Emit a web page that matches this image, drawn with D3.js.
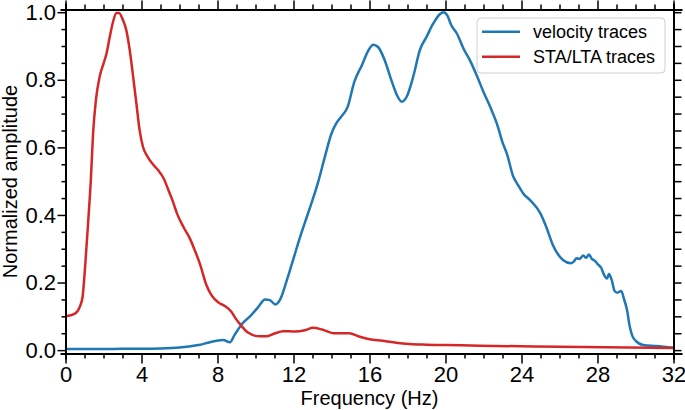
<!DOCTYPE html>
<html>
<head>
<meta charset="utf-8">
<script src="https://d3js.org/d3.v7.min.js"></script>
<style>
    body { margin: 0; background: #fff; }
    svg { display: block; font-family: "Liberation Sans", Arial, Helvetica, sans-serif; }
    .axis path, .axis line { stroke: #000; }
    .axis path { stroke-width: 2px; }
    .axis line { stroke-width: 1.5px; }
    .axis text { font-size: 22px; fill: #000; }
</style>
</head>
<body>
<script>

// velocity traces: frequency (Hz) and normalized amplitude
var velFreq = [0, 1, 2, 3, 4, 5, 6, 6.5, 7, 7.5, 7.95, 8.3, 8.65, 8.9, 9.3, 9.75, 10.15, 10.5, 10.75, 11.05,
    11.3, 11.65, 12, 12.35, 12.7, 13, 13.3, 13.65, 14, 14.25, 14.5, 14.85, 15.2, 15.6, 15.95, 16.2, 16.45,
    16.8, 17.15, 17.45, 17.7, 17.95, 18.3, 18.65, 19, 19.35, 19.7, 19.9, 20.1, 20.3, 20.6, 20.95, 21.3, 21.65,
    22, 22.35, 22.7, 23, 23.25, 23.55, 23.8, 24.1, 24.45, 25, 25.3, 25.65, 26.2, 26.6, 26.75, 26.9, 27.05,
    27.25, 27.4, 27.55, 27.7, 27.85, 28, 28.2, 28.35, 28.5, 28.6, 28.75, 28.9, 29.05, 29.25, 29.4, 29.55,
    29.7, 29.85, 30, 30.4, 31.1, 32];
var velAmp = [0.003, 0.003, 0.003, 0.004, 0.004, 0.005, 0.008, 0.011, 0.015, 0.022, 0.028, 0.030, 0.023, 0.045,
    0.078, 0.102, 0.128, 0.150, 0.148, 0.135, 0.150, 0.207, 0.271, 0.335, 0.394, 0.444, 0.498, 0.572, 0.641,
    0.671, 0.690, 0.720, 0.794, 0.843, 0.888, 0.904, 0.897, 0.858, 0.799, 0.754, 0.735, 0.749, 0.809, 0.888,
    0.927, 0.966, 0.994, 1.0, 0.99, 0.962, 0.937, 0.892, 0.856, 0.812, 0.764, 0.720, 0.671, 0.615, 0.578,
    0.516, 0.490, 0.463, 0.444, 0.404, 0.365, 0.311, 0.266, 0.257, 0.262, 0.272, 0.270, 0.280, 0.273, 0.283,
    0.270, 0.265, 0.255, 0.243, 0.222, 0.212, 0.225, 0.207, 0.175, 0.170, 0.175, 0.150, 0.120, 0.069, 0.040,
    0.028, 0.015, 0.012, 0.007];

// STA/LTA traces
var staFreq = [0, 0.5, 0.75, 0.9, 1.02, 1.2, 1.33, 1.45, 1.6, 1.8, 2, 2.16, 2.33, 2.5, 2.68, 2.82, 3.03, 3.2,
    3.38, 3.56, 3.73, 3.9, 4.08, 4.3, 4.6, 4.87, 5.17, 5.4, 5.65, 5.87, 6.2, 6.55, 6.8, 7.07, 7.42, 7.68,
    8.05, 8.4, 8.74, 8.95, 9.2, 9.6, 10.2, 10.6, 11, 11.45, 12.1, 12.6, 13.03, 13.5, 14.1, 14.95, 15.4, 16,
    16.7, 17.4, 18.1, 19, 20, 21.8, 26, 32];
var staAmp = [0.100, 0.108, 0.128, 0.158, 0.237, 0.385, 0.500, 0.640, 0.740, 0.810, 0.848, 0.878, 0.927, 0.971,
    0.998, 0.998, 0.976, 0.947, 0.888, 0.809, 0.730, 0.651, 0.601, 0.574, 0.550, 0.533, 0.508, 0.476, 0.440,
    0.404, 0.365, 0.330, 0.296, 0.256, 0.192, 0.163, 0.141, 0.130, 0.113, 0.094, 0.076, 0.052, 0.041, 0.041,
    0.049, 0.056, 0.055, 0.059, 0.066, 0.061, 0.050, 0.050, 0.041, 0.032, 0.028, 0.022, 0.018, 0.016, 0.015,
    0.013, 0.010, 0.006];

var xTicks = [0, 4, 8, 12, 16, 20, 24, 28, 32];
var yTicks = [0, 0.2, 0.4, 0.6, 0.8, 1.0];
var seriesNames = ["velocity traces", "STA/LTA traces"];
var seriesColors = ["#1f77b4", "#d62728"];

var margin = {top: 9.5, right: 11.5, bottom: 56.5, left: 65.5},
    width = 685 - margin.left - margin.right,
    height = 410 - margin.top - margin.bottom;

var svg = d3.select("body")
    .append("svg")
    .attr("width", 685)
    .attr("height", 410);

var g = svg.append("g")
    .attr("transform", "translate(" + margin.left + "," + margin.top + ")");

var x = d3.scaleLinear().domain([0, 32]).range([0, width]);
var y = d3.scaleLinear().domain([-0.01, 1.008]).range([height, 0]);

// minor ticks every 1 Hz and every 0.05
var xMinor = d3.range(0, 33, 1).filter(function(d) { return d % 4 != 0; });
var yMinor = d3.range(0, 21).map(function(i) { return i / 20; }).filter(function(d, i) { return i % 4 != 0; });

// curves
var line = d3.line()
    .x(function(d) { return x(d[0]); })
    .y(function(d) { return y(d[1]); })
    .curve(d3.curveMonotoneX);

var velData = velFreq.map(function(f, i) { return [f, velAmp[i]]; });
var staData = staFreq.map(function(f, i) { return [f, staAmp[i]]; });

g.append("path")
    .datum(velData)
    .attr("fill", "none")
    .attr("stroke", seriesColors[0])
    .attr("stroke-width", 2.5)
    .attr("d", line);

g.append("path")
    .datum(staData)
    .attr("fill", "none")
    .attr("stroke", seriesColors[1])
    .attr("stroke-width", 2.5)
    .attr("d", line);

// minor ticks (no labels)
g.append("g").attr("class", "axis")
    .attr("transform", "translate(0," + height + ")")
    .call(d3.axisBottom(x).tickValues(xMinor).tickSize(5).tickFormat(""));
g.append("g").attr("class", "axis")
    .call(d3.axisTop(x).tickValues(xMinor).tickSize(5).tickFormat(""));
g.append("g").attr("class", "axis")
    .call(d3.axisLeft(y).tickValues(yMinor).tickSize(4).tickFormat(""));
g.append("g").attr("class", "axis")
    .attr("transform", "translate(" + width + ",0)")
    .call(d3.axisRight(y).tickValues(yMinor).tickSize(8).tickFormat(""));

// major ticks
g.append("g").attr("class", "axis")
    .attr("transform", "translate(0," + height + ")")
    .call(d3.axisBottom(x).tickValues(xTicks).tickSize(10).tickPadding(3).tickSizeOuter(0).tickFormat(d3.format("d")));
g.append("g").attr("class", "axis")
    .call(d3.axisTop(x).tickValues(xTicks).tickSize(9).tickSizeOuter(0).tickFormat(""));
g.append("g").attr("class", "axis")
    .call(d3.axisLeft(y).tickValues(yTicks).tickSize(8).tickPadding(1.5).tickSizeOuter(0).tickFormat(d3.format(".1f")));
g.append("g").attr("class", "axis")
    .attr("transform", "translate(" + width + ",0)")
    .call(d3.axisRight(y).tickValues(yTicks).tickSize(8).tickSizeOuter(0).tickFormat(""));

g.selectAll(".axis path").attr("stroke-linecap", "square");

// axis labels
svg.append("text")
    .attr("x", margin.left + width / 2)
    .attr("y", 405)
    .attr("text-anchor", "middle")
    .style("font-size", "20px")
    .text("Frequency (Hz)");

svg.append("text")
    .attr("transform", "translate(17," + (margin.top + height / 2) + ") rotate(-90)")
    .attr("text-anchor", "middle")
    .style("font-size", "20px")
    .text("Normalized amplitude");

// legend
var legend = svg.append("g")
    .attr("transform", "translate(477,18)");

legend.append("rect")
    .attr("width", 188)
    .attr("height", 55)
    .attr("rx", 4)
    .attr("fill", "#fff")
    .attr("fill-opacity", 0.85)
    .attr("stroke", "#d0d0d0")
    .attr("stroke-width", 1);

var item = legend.selectAll(".item")
    .data(seriesNames)
    .enter().append("g")
    .attr("class", "item")
    .attr("transform", function(d, i) { return "translate(0," + (13.7 + i * 25) + ")"; });

item.append("line")
    .attr("x1", 5)
    .attr("x2", 43)
    .attr("stroke", function(d, i) { return seriesColors[i]; })
    .attr("stroke-width", 2.5);

item.append("text")
    .attr("x", 56)
    .attr("dy", "0.35em")
    .style("font-size", "18px")
    .text(function(d) { return d; });

</script>
</body>
</html>
